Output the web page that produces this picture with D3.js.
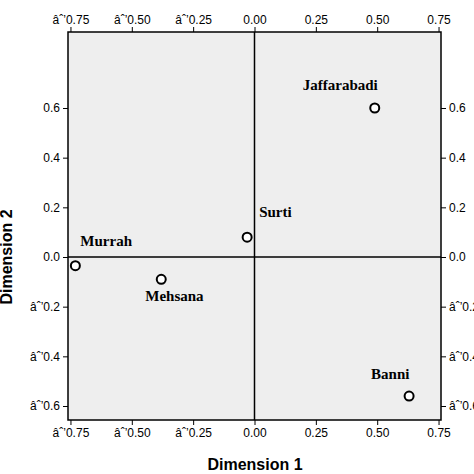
<!DOCTYPE html><html><head><script src="https://cdn.jsdelivr.net/npm/d3@7"></script>
<style>body{margin:0;background:#fff}</style></head><body><svg width="474" height="474"></svg>
<script>
const names=["Jaffarabadi","Surti","Murrah","Mehsana","Banni"];
const dim1=[0.49,-0.03,-0.73,-0.38,0.63];
const dim2=[0.60,0.08,-0.035,-0.09,-0.56];
const xTicks=[-0.75,-0.5,-0.25,0,0.25,0.5,0.75];
const yTicks=[-0.6,-0.4,-0.2,0,0.2,0.4,0.6];
const svg=d3.select("svg");
const x=d3.scaleLinear().domain([-0.76,0.76]).range([68,441]);
const y=d3.scaleLinear().domain([0,0.6]).range([257,108]);
const T=32,B=420,L=68,R=441;
svg.append("rect").attr("x",L).attr("y",T).attr("width",R-L).attr("height",B-T).attr("fill","#eeeeee").attr("stroke","#000").attr("stroke-width",1.5);
const fmt=d3.format(".2f"),fy=d3.format(".1f");
const ax=(g,a)=>{g.call(a);g.select(".domain").remove();g.selectAll("text").attr("font-family","Arial, Liberation Sans").attr("font-size",12).attr("fill","#000");};
svg.append("g").attr("transform",`translate(0,${B})`).call(g=>ax(g,d3.axisBottom(x).tickValues(xTicks).tickFormat(fmt).tickSize(5)));
svg.append("g").attr("transform",`translate(0,${T})`).call(g=>ax(g,d3.axisTop(x).tickValues(xTicks).tickFormat(fmt).tickSize(5)));
svg.append("g").attr("transform",`translate(${L},0)`).call(g=>ax(g,d3.axisLeft(y).tickValues(yTicks).tickFormat(fy).tickSize(5)));
svg.append("g").attr("transform",`translate(${R},0)`).call(g=>ax(g,d3.axisRight(y).tickValues(yTicks).tickFormat(fy).tickSize(5)));
svg.append("line").attr("x1",x(0)).attr("x2",x(0)).attr("y1",T).attr("y2",B).attr("stroke","#000").attr("stroke-width",1.5);
svg.append("line").attr("x1",L).attr("x2",R).attr("y1",y(0)).attr("y2",y(0)).attr("stroke","#000").attr("stroke-width",1.5);
const off={Jaffarabadi:[-72,-18],Surti:[12,-20],Murrah:[5,-20],Mehsana:[-16,22],Banni:[-38,-17]};
names.forEach((n,i)=>{
 svg.append("circle").attr("cx",x(dim1[i])).attr("cy",y(dim2[i])).attr("r",4.5).attr("fill","#fff").attr("stroke","#000").attr("stroke-width",2);
 svg.append("text").attr("x",x(dim1[i])+off[n][0]).attr("y",y(dim2[i])+off[n][1]).attr("font-family","Liberation Serif, Times New Roman").attr("font-weight","bold").attr("font-size",15).text(n);
});
svg.append("text").attr("x",255).attr("y",470).attr("text-anchor","middle").attr("font-family","Arial, Liberation Sans").attr("font-weight","bold").attr("font-size",16).text("Dimension 1");
svg.append("text").attr("transform","translate(12,257) rotate(-90)").attr("text-anchor","middle").attr("font-family","Arial, Liberation Sans").attr("font-weight","bold").attr("font-size",16).text("Dimension 2");
</script></body></html>
